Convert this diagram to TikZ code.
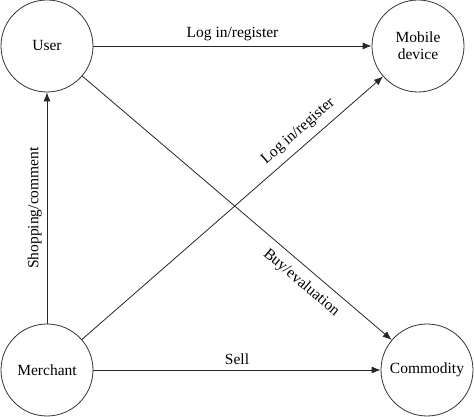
\documentclass[tikz,border=0pt]{standalone}
\usepackage{fontspec}
\setmainfont{Liberation Serif}
\usetikzlibrary{positioning, arrows.meta}
\tikzset{
        actor/.style={
            circle, draw=black!80, line width=0.8pt, minimum size=92pt, inner sep=0pt,
            align=center, font=\fontsize{15.5}{17}\selectfont
        },
        flow/.style={
            draw=black!85, line width=0.8pt, -{Latex[length=9pt,width=7pt]}
        },
        tag/.style={
            font=\fontsize{15.5}{17}\selectfont, inner sep=2pt
        },
}
\begin{document}
\begin{tikzpicture}[x=1pt, y=1pt]

        \useasboundingbox (0,0) rectangle (474,417);

        % DRAW NODES
        \node[actor] (user)      at (47,371)  {User};
        \node[actor] (mobile)    at (418,371) {Mobile\\device};
        \node[actor] (merchant)  at (47,47)   {Merchant};
        \node[actor] (commodity) at (427,47)  {Commodity};

        % CONNECT ACTORS
        \draw [flow] (user) -- node[tag, above=3pt] {Log in/register} (mobile);
        \draw [flow] (merchant) -- node[tag, above=3pt] {Sell} (commodity);
        \draw [flow] (merchant) -- node[tag, above=3pt, sloped] {Shopping/comment} (user);

        % DIAGONALS
        \draw [flow] (merchant) -- node[tag, above=5pt, sloped, pos=0.75] {Log in/register} (mobile);
        \draw [flow] (user) -- node[tag, below=6pt, sloped, pos=0.74] {Buy/evaluation} (commodity);

\end{tikzpicture}
\end{document}
